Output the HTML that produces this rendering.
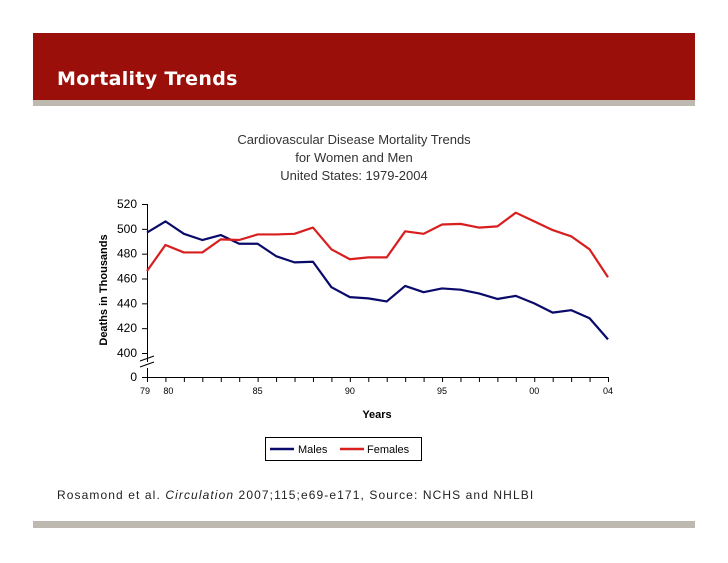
<!DOCTYPE html>
<html><head><meta charset="utf-8"><style>
body{margin:0;width:728px;height:563px;background:#fff;overflow:hidden;font-family:"Liberation Sans",sans-serif;position:relative}
.banner{position:absolute;left:33px;top:33px;width:662px;height:67px;background:#9a0f0a;border-bottom:6px solid #bdb9b1}
.banner span{position:absolute;left:24px;top:35px;color:#fff;font-weight:bold;font-size:19px;font-family:"DejaVu Sans","Liberation Sans",sans-serif;letter-spacing:0.3px}
.cite{position:absolute;left:57px;top:488px;font-size:12px;letter-spacing:1.1px;color:#222}
.foot{position:absolute;left:33px;top:521px;width:662px;height:7px;background:#bdb9b1}
</style></head><body>
<div class="banner"><span>Mortality Trends</span></div>
<svg width="728" height="563" style="position:absolute;left:0;top:0" id="chart">
<g font-size="13" fill="#333" text-anchor="middle">
<text x="354" y="144">Cardiovascular Disease Mortality Trends</text>
<text x="354" y="162">for Women and Men</text>
<text x="354" y="180">United States: 1979-2004</text>
</g>
<text transform="translate(107,290) rotate(-90)" font-size="11" font-weight="bold" text-anchor="middle">Deaths in Thousands</text>
<text x="377" y="418" font-size="11" font-weight="bold" text-anchor="middle">Years</text>
<g id="axes"></g><g id="lines"></g>
<g>
<rect x="265.5" y="437.5" width="156" height="23" fill="#fff" stroke="#000"/>
<line x1="270" y1="449" x2="294" y2="449" stroke="#0a0a6b" stroke-width="2.5"/>
<text x="298" y="453" font-size="11">Males</text>
<line x1="340" y1="449" x2="364" y2="449" stroke="#d81e1e" stroke-width="2.5"/>
<text x="367" y="453" font-size="11">Females</text>
</g>
</svg>
<div class="cite">Rosamond et al. <i>Circulation</i> 2007;115;e69-e171, Source: NCHS and NHLBI</div>
<div class="foot"></div>
<script>
const years=[1979,1980,1981,1982,1983,1984,1985,1986,1987,1988,1989,1990,1991,1992,1993,1994,1995,1996,1997,1998,1999,2000,2001,2002,2003,2004];
const males=[497,506,496,491,495,488,488,478,473,473.5,453,445,444,441.5,454,449,452,451,448,443.5,446,440,432.5,434.5,428,411];
const females=[466,487,481,481,491.5,491,495.5,495.5,496,501,483.5,475.5,477,477,498,496,503.5,504,501,502,513,506,499,494,483.5,461];
const yTicks=[400,420,440,460,480,500,520];
const xLabels={1979:"79",1980:"80",1985:"85",1990:"90",1995:"95",2000:"00",2004:"04"};
const NS="http://www.w3.org/2000/svg";
const x=v=>147+(v-1979)*(608-147)/25;
const y=v=>353-(v-400)*(353-204)/120;
function mk(tag,attrs,parent){const e=document.createElementNS(NS,tag);for(const k in attrs)e.setAttribute(k,attrs[k]);parent.appendChild(e);return e;}
const ax=document.getElementById('axes');
let e=mk('path',{d:'M147.5 204 V362 M147.5 368 V377',stroke:'#000',fill:'none'},ax);


mk('path',{d:'M140 361 L154 356 M140 367 L154 362',stroke:'#000',fill:'none'},ax);
e=mk('line',{x1:147,y1:377.5,x2:608,y2:377.5,stroke:'#000'},ax);


yTicks.forEach(t=>{mk('line',{x1:142,x2:147,y1:y(t)+.5,y2:y(t)+.5,stroke:'#000'},ax);
 const tx=mk('text',{x:137,y:y(t)+4,'font-size':12,'text-anchor':'end'},ax);tx.textContent=t;
 
 });
mk('line',{x1:142,x2:147,y1:377.5,y2:377.5,stroke:'#000'},ax);
let z=mk('text',{x:137,y:381,'font-size':12,'text-anchor':'end'},ax);z.textContent='0';
years.forEach(yr=>{mk('line',{x1:x(yr)+.5,x2:x(yr)+.5,y1:377,y2:382,stroke:'#000'},ax);
 if(xLabels[yr]){const tx=mk('text',{x:x(yr)+(yr==1979?-2:yr==1980?3:0),y:394,'font-size':9,'text-anchor':'middle'},ax);tx.textContent=xLabels[yr];
 
 }});
const ln=document.getElementById('lines');
[[males,'#0a0a6b','males-line'],[females,'#d81e1e','females-line']].forEach(([d,c,n])=>{
 const p=mk('polyline',{points:d.map((v,i)=>x(years[i])+','+y(v)).join(' '),fill:'none',stroke:c,'stroke-width':2.2,'stroke-linejoin':'round'},ln);
 
 });
</script>
</body></html>
